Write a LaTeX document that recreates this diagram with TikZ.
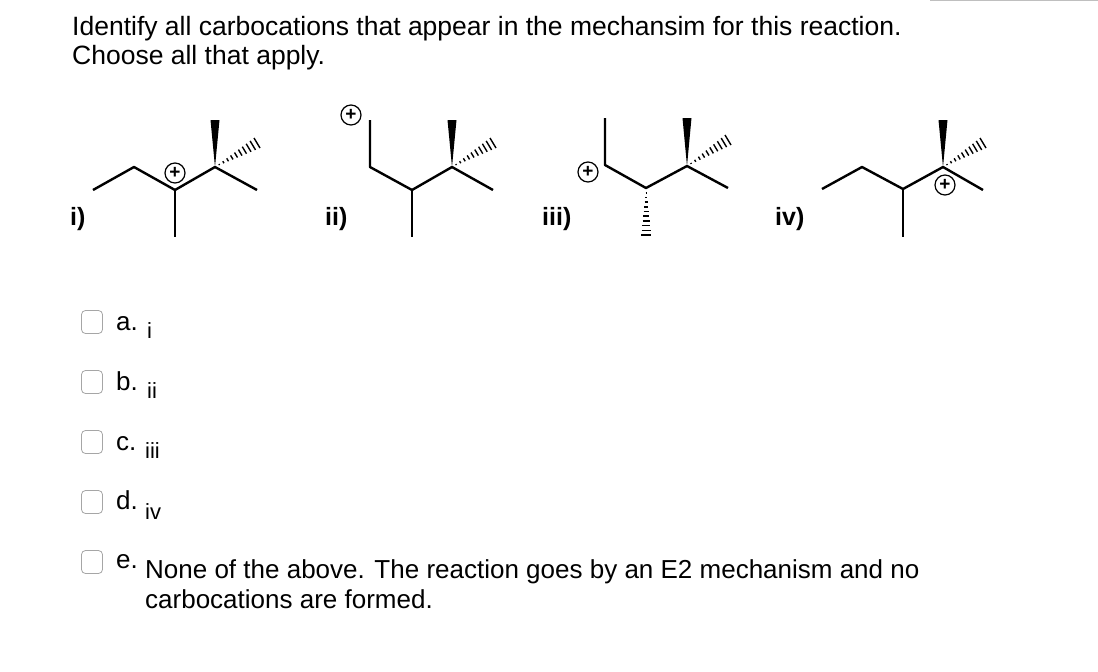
\documentclass[tikz,border=0pt]{standalone}
\usepackage{fontspec}
\setmainfont{Liberation Sans}
\usetikzlibrary{calc}
\begin{document}
\begin{tikzpicture}[x=1pt,y=-1pt,
  bond/.style={line width=2.4pt},
  txt/.style={anchor=base west,inner sep=0pt,font=\fontsize{26.5}{30}\selectfont},
  lbl/.style={anchor=base west,inner sep=0pt,font=\bfseries\fontsize{25}{28}\selectfont},
  opt/.style={anchor=base west,inner sep=0pt,font=\fontsize{26}{30}\selectfont},
  rom/.style={anchor=base west,inner sep=0pt,font=\fontsize{22}{24}\selectfont},
  box/.style={draw=black!35,line width=0.8pt,rounded corners=4pt,minimum width=21pt,minimum height=23pt,inner sep=0pt},
  plus/.style={circle,draw,line width=1.2pt,minimum size=20pt,inner sep=0pt,font=\bfseries\fontsize{19}{19}\selectfont}]
\useasboundingbox (0,0) rectangle (1098,672);
\draw[black!25,line width=2pt] (930,0) -- (1098,0);
\node[txt] (t1) at (72,35) {Identify all carbocations that appear in the mechansim for this reaction.};
\node[txt] (t2) at (72,64) {Choose all that apply.};
% i
\coordinate (a1) at (93,190); \coordinate (a2) at (134,167); \coordinate (a3) at (175,190);
\coordinate (a4) at (175,237); \coordinate (a5) at (215,167); \coordinate (a6) at (215,120);
\coordinate (a7) at (257,143); \coordinate (a8) at (257,190);
\draw[bond,line join=round] (a1)--(a2)--(a3)--(a5)--(a8); \draw[bond] (a3)--(a4);
\fill (a5) -- ($(a6)+(-4.5,0)$) -- ($(a6)+(4.5,0)$) -- cycle;
\foreach \t in {0.1,0.2,...,1.0}{\draw[line width=1.4pt] ($(a5)!\t!(a7)+({-3*\t},{-5*\t})$) -- ($(a5)!\t!(a7)+({3*\t},{5*\t})$);}
\node[plus,fill=white] (p1) at (175,173) {+};
\node[lbl] (l1) at (70,225) {i)};
% ii
\coordinate (b1) at (370,120); \coordinate (b2) at (370,167); \coordinate (b3) at (412,190);
\coordinate (b4) at (412,237); \coordinate (b5) at (452,167); \coordinate (b6) at (452,120);
\coordinate (b7) at (493,143); \coordinate (b8) at (493,190);
\draw[bond,line join=round] (b1)--(b2)--(b3)--(b5)--(b8); \draw[bond] (b3)--(b4);
\fill (b5) -- ($(b6)+(-4.5,0)$) -- ($(b6)+(4.5,0)$) -- cycle;
\foreach \t in {0.1,0.2,...,1.0}{\draw[line width=1.4pt] ($(b5)!\t!(b7)+({-3*\t},{-5*\t})$) -- ($(b5)!\t!(b7)+({3*\t},{5*\t})$);}
\node[plus] (p2) at (351,115) {+};
\node[lbl] (l2) at (325,225) {ii)};
% iii
\coordinate (c1) at (605,118); \coordinate (c2) at (605,165); \coordinate (c3) at (646,188);
\coordinate (c4) at (646,235); \coordinate (c5) at (687,166); \coordinate (c6) at (687,118);
\coordinate (c7) at (728,140); \coordinate (c8) at (728,188);
\draw[bond,line join=round] (c1)--(c2)--(c3)--(c5)--(c8);
\foreach \t in {0.1,0.2,...,1.0}{\draw[line width=1.6pt] ($(c3)!\t!(c4)+({-5*\t},0)$) -- ($(c3)!\t!(c4)+({5*\t},0)$);}
\fill (c5) -- ($(c6)+(-4.5,0)$) -- ($(c6)+(4.5,0)$) -- cycle;
\foreach \t in {0.1,0.2,...,1.0}{\draw[line width=1.4pt] ($(c5)!\t!(c7)+({-3*\t},{-5*\t})$) -- ($(c5)!\t!(c7)+({3*\t},{5*\t})$);}
\node[plus] (p3) at (588,172) {+};
\node[lbl] (l3) at (542,225) {iii)};
% iv
\coordinate (d1) at (822,189); \coordinate (d2) at (862,167); \coordinate (d3) at (903,189);
\coordinate (d4) at (903,237); \coordinate (d5) at (943,167); \coordinate (d6) at (943,120);
\coordinate (d7) at (983,143); \coordinate (d8) at (983,190);
\draw[bond,line join=round] (d1)--(d2)--(d3)--(d5)--(d8); \draw[bond] (d3)--(d4);
\fill (d5) -- ($(d6)+(-4.5,0)$) -- ($(d6)+(4.5,0)$) -- cycle;
\foreach \t in {0.1,0.2,...,1.0}{\draw[line width=1.4pt] ($(d5)!\t!(d7)+({-3*\t},{-5*\t})$) -- ($(d5)!\t!(d7)+({3*\t},{5*\t})$);}
\node[plus,fill=white] (p4) at (945,185) {+};
\node[lbl] (l4) at (775,225) {iv)};
% options
\node[box] (ba) at (92,322) {}; \node[opt] (oa) at (116,330) {a.}; \node[rom] (ra) at (147,338) {i};
\node[box] (bb) at (92,382) {}; \node[opt] (ob) at (116,390) {b.}; \node[rom] (rb) at (147,398) {ii};
\node[box] (bc) at (92,442) {}; \node[opt] (oc) at (116,450) {c.}; \node[rom] (rc) at (145,458) {iii};
\node[box] (bd) at (92,502) {}; \node[opt] (od) at (116,509) {d.}; \node[rom] (rd) at (145,519) {iv};
\node[box] (be) at (92,562) {}; \node[opt] (oe) at (116,568) {e.};
\node[opt] (te1) at (145,578) {None of the above. The reaction goes by an E2 mechanism and no};
\node[opt] (te2) at (145,608) {carbocations are formed.};
\end{tikzpicture}
\end{document}
